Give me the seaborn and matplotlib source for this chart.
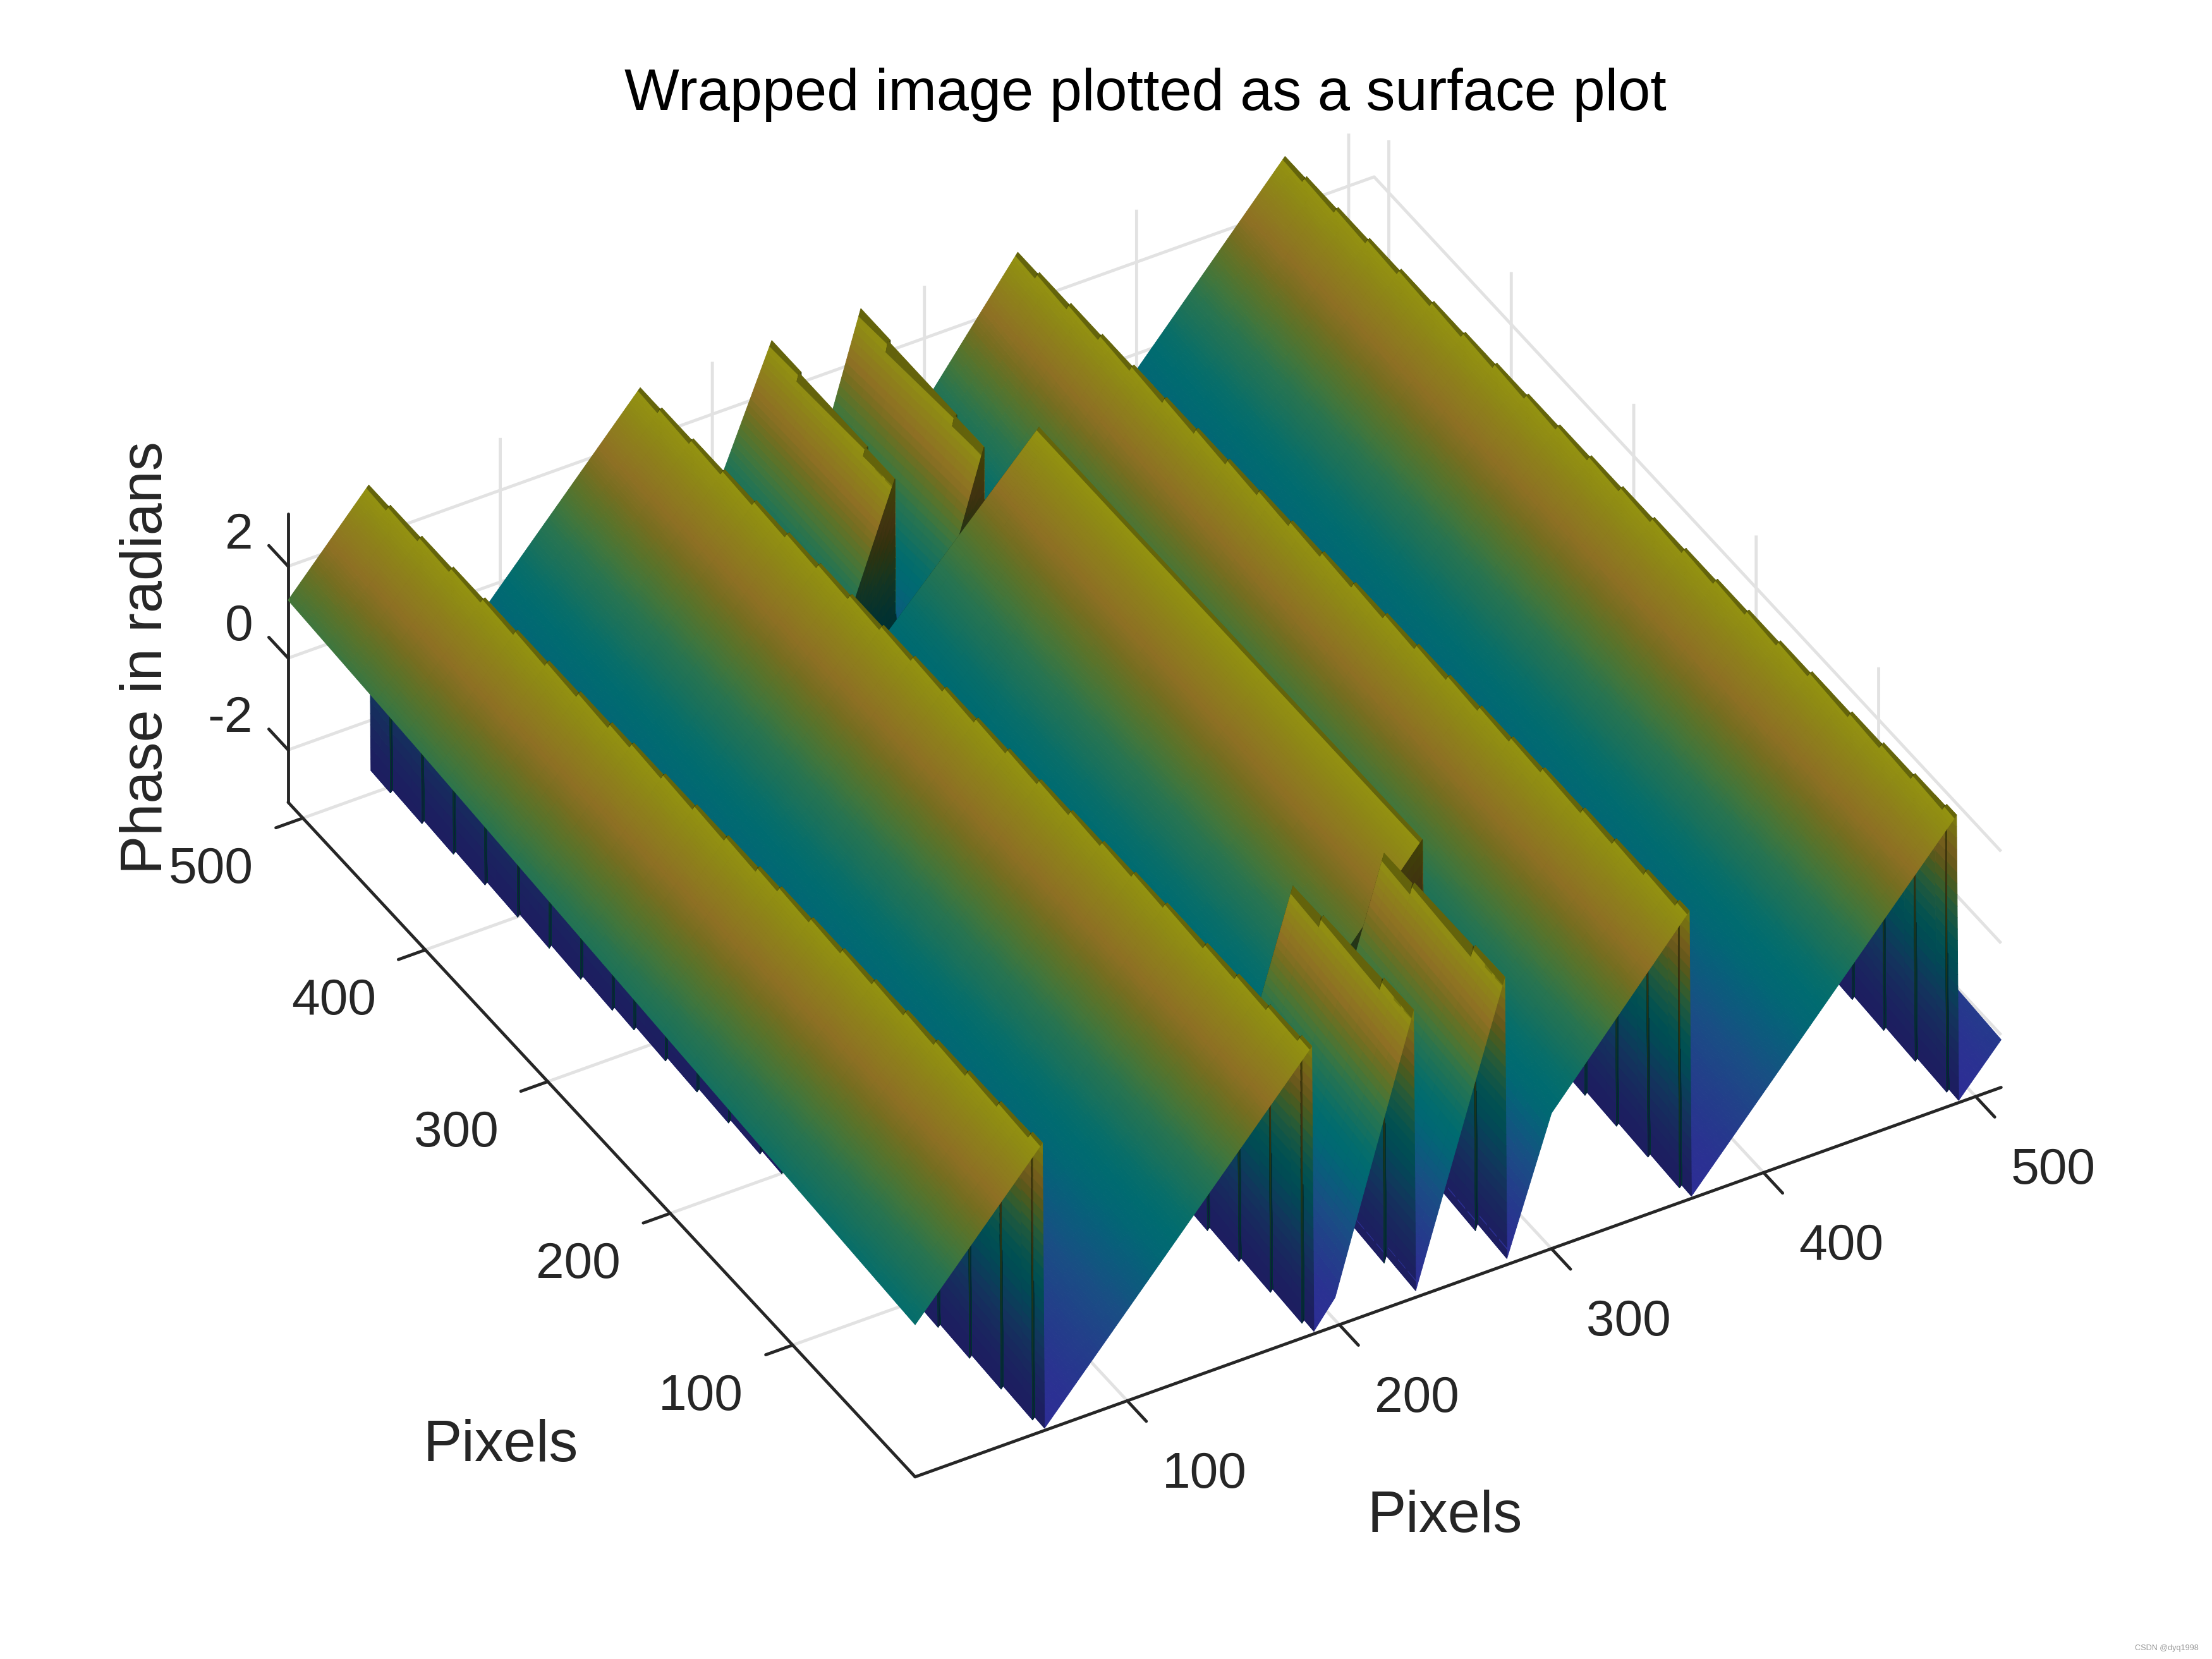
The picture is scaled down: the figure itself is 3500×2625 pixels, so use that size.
import numpy as np
import matplotlib
matplotlib.use("Agg")
import matplotlib.pyplot as plt
from matplotlib.ticker import FormatStrFormatter
from matplotlib.transforms import ScaledTranslation
import seaborn as sns
from mpl_toolkits.mplot3d.art3d import Poly3DCollection

# ---- values -----------------------------------------------------------
image_size = 512
band_edges = [0, 95, 408, 512]

# x position of phase knots at the two y ends of each band, and the phase (in cycles) at each knot
front_x_start = [-67, 60, 187, 198, 235, 278, 300, 365, 491, 618]
front_x_end = [-71, 56, 183, 194, 233, 276, 296, 361, 487, 614]
front_cycles = [0, 1, 2, 2.1, 3, 4, 4.47, 5, 6, 7]

mid_x_start = [-71, 56, 183, 184, 294, 295, 361, 487, 614]
mid_x_end = [-85, 42, 170, 171, 294, 295, 348, 474, 601]
mid_cycles = [0, 1, 2, 2.1, 3, 3.46, 4, 5, 6]

back_x_start = [-85, 42, 170, 180, 226, 268, 295, 348, 474, 601]
back_x_end = [-89, 38, 166, 176, 228, 270, 286, 344, 470, 597]
back_cycles = [0, 1, 2, 2.1, 3, 4, 4.46, 5, 6, 7]

phase_palette = ["#2d2d96", "#2c2f94", "#2a3291", "#26388d", "#233e8a", "#1e4687",
                 "#194e84", "#10577f", "#085f7a", "#026774", "#006b70", "#086e69",
                 "#19715c", "#287450", "#41763c", "#5a732a", "#766e20", "#8e7024",
                 "#8e7c1e", "#8e8816", "#94940f"]
x_ticks = [100, 200, 300, 400, 500]
y_ticks = [100, 200, 300, 400, 500]
z_ticks = [-2, 0, 2]
title_text = "Wrapped image plotted as a surface plot"
xy_label = "Pixels"
z_label = "Phase in radians"
credit = "CSDN @dyq1998"

# ---- theme -------------------------------------------------------------
sns.set_style("white")
plt.rcParams["font.family"] = ["Liberation Sans", "DejaVu Sans"]
cmap = sns.blend_palette(phase_palette, as_cmap=True)
ink = "#262626"
grid_c = "#e2e2e2"

bands = [(band_edges[0], band_edges[1], front_x_start, front_x_end, front_cycles),
         (band_edges[1], band_edges[2], mid_x_start, mid_x_end, mid_cycles),
         (band_edges[2], band_edges[3], back_x_start, back_x_end, back_cycles)]

xs = np.arange(image_size + 1, dtype=float)
rows = []
for y0, y1, xa, xb, cyc in bands:
    edges = np.append(np.arange(y0, y1 - 4, 8.0), y1)
    xa, xb, cyc = map(np.array, (xa, xb, cyc))
    for a, b in zip(edges[:-1], edges[1:]):
        ta, tb = (a - y0) / (y1 - y0), (b - y0) / (y1 - y0)
        t = (ta + tb) / 2
        um = np.interp(xs, np.round(xa + (xb - xa) * t), cyc)
        turn = np.ceil(um)
        at_crest = np.isclose(um, turn)
        fa = np.clip(np.interp(xs, xa + (xb - xa) * ta, cyc) - turn + 1, 0, 1)
        fb = np.clip(np.interp(xs, xa + (xb - xa) * tb, cyc) - turn + 1, 0, 1)
        fa[at_crest] = 1
        fb[at_crest] = 1
        rows.append((a, b, -np.pi + 2 * np.pi * fa, -np.pi + 2 * np.pi * fb, a - y0))


def shade(z, factor):
    c = np.array(cmap((np.asarray(z) + np.pi) / (2 * np.pi)))
    c[..., :3] *= np.asarray(factor)[..., None] if np.ndim(factor) else factor
    return c


polys, cols = [], []
for k, (a, b, za, zb, depth_in_band) in enumerate(rows):
    x0, x1 = xs[:-1], xs[1:]
    zm = (za + zb) / 2
    wall = zm[1:] < zm[:-1] - 1.0
    top = ~wall
    crest = np.append(wall[1:], False) & top
    ya, yb = np.full_like(x0, a), np.full_like(x0, b)
    q = np.stack([np.stack([x0, ya, za[:-1]], 1),
                  np.stack([x1, ya, za[1:]], 1),
                  np.stack([x1, yb, zb[1:]], 1),
                  np.stack([x0, yb, zb[:-1]], 1)], 1)
    f = np.where(crest, 0.68, 1.0)
    polys.append(q[top])
    cols.append(shade(((zm[:-1] + zm[1:]) / 2)[top], f[top]))
    # falling faces between neighbouring columns
    for i in np.nonzero(wall)[0]:
        n = int(np.ceil((zm[i] - zm[i + 1]) / 0.25))
        t = np.linspace(0, 1, n + 1)
        xx = x0[i] + t
        z1 = za[i] + (za[i + 1] - za[i]) * t
        z2 = zb[i] + (zb[i + 1] - zb[i]) * t
        q = np.stack([np.stack([xx[:-1], np.full(n, a), z1[:-1]], 1),
                      np.stack([xx[1:], np.full(n, a), z1[1:]], 1),
                      np.stack([xx[1:], np.full(n, b), z2[1:]], 1),
                      np.stack([xx[:-1], np.full(n, b), z2[:-1]], 1)], 1)
        mz = (z1[:-1] + z1[1:] + z2[:-1] + z2[1:]) / 4
        # the top of a wall is always hidden by its own tooth away from the tooth's open end
        keep = (depth_in_band < 16) | (mz < np.pi - 0.8)
        polys.append(q[keep])
        cols.append(shade(mz, 0.64 + 0.2 * (mz + np.pi) / (2 * np.pi))[keep])
    # faces between neighbouring rows
    if k + 1 < len(rows):
        zn = rows[k + 1][2]
        d = np.abs(zb - zn)
        for i in np.nonzero((d[:-1] > 0.01) | (d[1:] > 0.01))[0]:
            n = max(1, int(np.ceil(max(d[i], d[i + 1]) / 0.25)))
            t = np.linspace(0, 1, n + 1)
            z1 = zb[i] + (zn[i] - zb[i]) * t
            z2 = zb[i + 1] + (zn[i + 1] - zb[i + 1]) * t
            yy = np.full(n, b)
            q = np.stack([np.stack([np.full(n, xs[i]), yy, z1[:-1]], 1),
                          np.stack([np.full(n, xs[i + 1]), yy, z2[:-1]], 1),
                          np.stack([np.full(n, xs[i + 1]), yy, z2[1:]], 1),
                          np.stack([np.full(n, xs[i]), yy, z1[1:]], 1)], 1)
            polys.append(q)
            cols.append(shade((z1[:-1] + z1[1:] + z2[:-1] + z2[1:]) / 4, 0.45))

verts = np.concatenate(polys)
colors = np.concatenate(cols)

fig = plt.figure(figsize=(10, 7.5), dpi=350, facecolor="white")
S = 2600
ax = fig.add_axes([476 / 3500, 23 / 2625, S / 3500, S / 2625], projection="3d",
                  proj_type="ortho", facecolor="none")
ax.view_init(elev=38.4, azim=-120)
ax.set_box_aspect((886, 886, 260), zoom=1.07)
ax.set_xlim(0, image_size)
ax.set_ylim(0, image_size)
ax.set_zlim(-np.pi, np.pi)

surface = Poly3DCollection(verts, facecolors=colors, edgecolors=colors, linewidths=0.2, zsort="average")
surface.set_clip_on(False)
ax.add_collection3d(surface, autolim=False)

ax.set_xticks(x_ticks)
ax.set_yticks(y_ticks)
ax.set_zticks(z_ticks)
ax.tick_params(labelsize=16.5, colors=ink, pad=0)
ax.zaxis._get_tickdir = lambda position: 1


def nudge_labels(axis, dx, dy):
    """Keep the axis' own tick labels, shifted by (dx, dy) inches from where mplot3d puts them."""
    original = axis.get_major_ticks

    def patched(numticks=None):
        ticks = original(numticks)
        for tick in ticks:
            tick.label1.set_transform(ax.transData + ScaledTranslation(dx, dy, fig.dpi_scale_trans))
        return ticks

    axis.get_major_ticks = patched


nudge_labels(ax.xaxis, 0.268, -0.21)
nudge_labels(ax.yaxis, -0.274, -0.146)
nudge_labels(ax.zaxis, 0.063, 0.102)

tick_spec = ((ax.xaxis, "center", 0.38, 0.0), (ax.yaxis, "center", 0.31, 0.0), (ax.zaxis, "right", 0.0, 0.385))
for axis, hal, inward, outward in tick_spec:
    axis.set_pane_color((1, 1, 1, 0))
    axis.pane.set_edgecolor((1, 1, 1, 0))
    axis.line.set_color(ink)
    axis.line.set_linewidth(1.0)
    axis._axinfo["grid"].update(color=grid_c, linewidth=1.0)
    axis._axinfo["tick"].update(inward_factor=inward, outward_factor=outward,
                                linewidth={True: 1.0, False: 1.0}, color=ink)
    axis.set_major_formatter(FormatStrFormatter("%d"))
    for lab in axis.get_ticklabels():
        lab.set_ha(hal)
        lab.set_va("center")
ax.grid(True)

fig.text(355 / 1568, 1 - 1025 / 1176, xy_label, fontsize=18.9, color=ink, ha="center", va="center")
fig.text(1024 / 1568, 1 - 1075 / 1176, xy_label, fontsize=18.9, color=ink, ha="center", va="center")
fig.text(104 / 1568, 1 - 466 / 1176, z_label, fontsize=18.9, color=ink, ha="center", va="center", rotation=90)
fig.text(812 / 1568, 1 - 67 / 1176, title_text, fontsize=18.9, color="black", ha="center", va="center")
fig.text(3428 / 3500, 1 - 2608 / 2625, credit, fontsize=2.6, color="#999999", ha="center", va="center")

fig.savefig("out.png", dpi=350)
